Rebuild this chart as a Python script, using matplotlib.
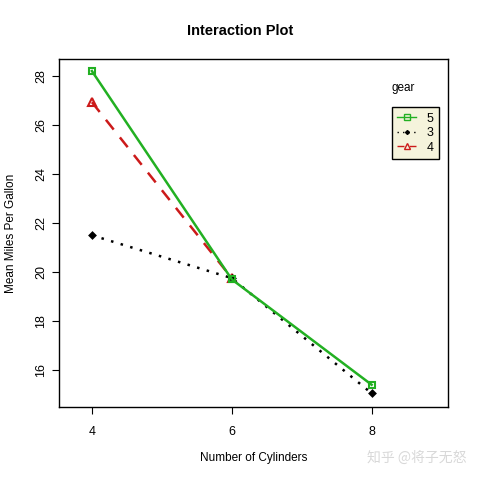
import numpy as np
import matplotlib.pyplot as plt
from matplotlib.lines import Line2D

plt.rcParams['font.family'] = ['Liberation Sans', 'Noto Sans CJK SC', 'DejaVu Sans']

# mean mpg by cylinders, one series per gear
cyl = [4, 6, 8]
gear_levels = ["5", "3", "4"]
mpg_gear5 = [28.2, 19.7, 15.4]
mpg_gear3 = [21.5, 19.75, 15.05]
mpg_gear4 = [26.93, 19.75, np.nan]

series = {
    "5": dict(y=mpg_gear5, color="#22B022", ls="-", marker="s", ms=5, mfc="none"),
    "3": dict(y=mpg_gear3, color="black", ls=(0, (1, 3)), marker="D", ms=3, mfc="black"),
    "4": dict(y=mpg_gear4, color="#CC1A1A", ls=(0, (5, 4)), marker="^", ms=6, mfc="none"),
}

fig = plt.figure(figsize=(4.8, 4.8), dpi=100)
ax = fig.add_axes([0.123, 0.152, 0.81, 0.725])

# draw back to front like R: 4 first, then 3, then 5 on top
for g in ["4", "3", "5"]:
    s = series[g]
    ax.plot(cyl, s["y"], color=s["color"], linestyle=s["ls"], linewidth=1.8,
            marker=s["marker"], markersize=s["ms"], markerfacecolor=s["mfc"],
            markeredgecolor=s["color"], markeredgewidth=1.5)

ax.set_xlim(3.53, 9.09)
ax.set_ylim(14.49, 28.69)
ax.set_xticks(cyl)
ax.set_yticks([16, 18, 20, 22, 24, 26, 28])
ax.tick_params(axis="y", labelrotation=90, labelsize=9, length=5)
ax.tick_params(axis="x", labelsize=9, length=5, pad=9)
for lab in ax.get_yticklabels():
    lab.set_va("center")
for sp in ax.spines.values():
    sp.set_linewidth(1.0)

fig.text(0.5, 0.935, "Interaction Plot", ha="center", va="center",
         fontsize=10.5, fontweight="bold")
fig.text(0.528, 0.046, "Number of Cylinders", ha="center", va="center", fontsize=8.5)
fig.text(0.022, 0.514, "Mean Miles Per Gallon", ha="center", va="center",
         rotation=90, fontsize=8.5)

handles = []
for g in gear_levels:
    s = series[g]
    handles.append(Line2D([0], [0], color=s["color"], linestyle=s["ls"], linewidth=1,
                          marker=s["marker"], markersize=s["ms"] - 1,
                          markerfacecolor=s["mfc"], markeredgecolor=s["color"]))
leg = ax.legend(handles, gear_levels, loc="upper left",
                bbox_to_anchor=(0.856, 0.862), borderaxespad=0, frameon=True,
                fancybox=False, handlelength=1.45, handletextpad=0.9,
                borderpad=0.45, labelspacing=0.2, fontsize=9)
leg.get_frame().set_facecolor("#F5F3DC")
leg.get_frame().set_edgecolor("black")
leg.get_frame().set_linewidth(1.0)
leg.get_frame().set_alpha(1)
fig.text(0.840, 0.817, "gear", ha="center", va="center", fontsize=8.5)

fig.text(0.868, 0.046, "知乎 @将子无怒", ha="center", va="center",
         fontsize=10, color="#D8D8D8",
         family=["Noto Sans CJK SC", "DejaVu Sans"])

fig.savefig("out.png", dpi=100, facecolor="white")
